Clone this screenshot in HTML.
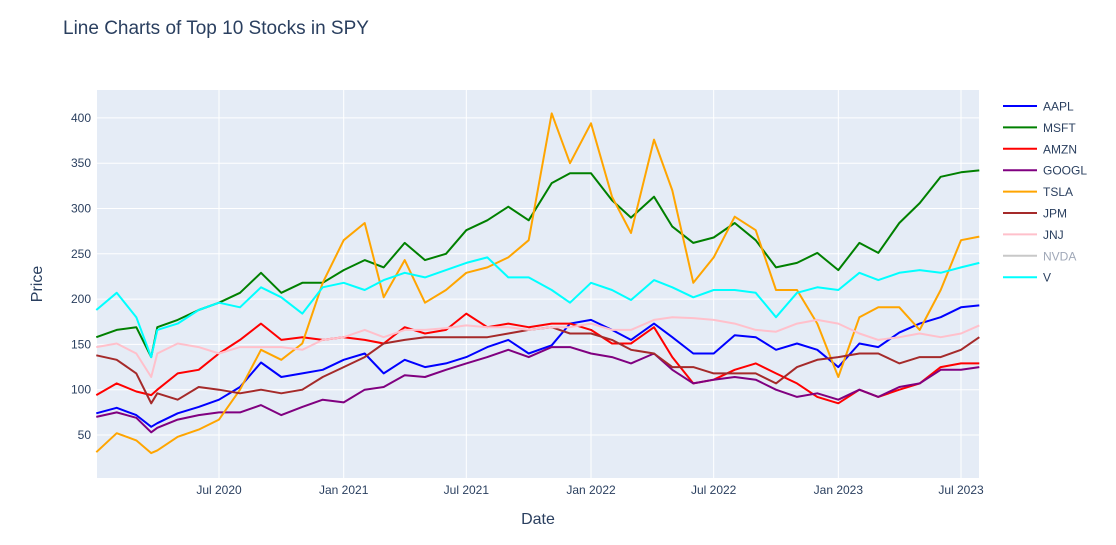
<!DOCTYPE html>
<html><head><meta charset="utf-8"><style>
body{margin:0;background:#fff;width:1116px;height:540px;overflow:hidden}
svg{font-family:"Liberation Sans",Arial,sans-serif}
</style></head><body>
<svg id="chart" width="1116" height="540" xmlns="http://www.w3.org/2000/svg">
<text x="63" y="34" font-size="19" fill="#2a3f5f">Line Charts of Top 10 Stocks in SPY</text>
<rect x="97" y="90" width="882" height="388" fill="#E5ECF6"/>
<g id="grid"></g><g id="lines"></g><g id="ticks"></g>
<text x="538" y="524" font-size="16" fill="#2a3f5f" text-anchor="middle">Date</text>
<text x="0" y="0" font-size="16" fill="#2a3f5f" text-anchor="middle" transform="translate(42,284) rotate(-90)">Price</text>
<g id="legend"></g>
</svg>
<script>
const dates=["2020-01-02","2020-02-01","2020-03-01","2020-03-23","2020-04-01","2020-05-01","2020-06-01","2020-07-01","2020-08-01","2020-09-01","2020-10-01","2020-11-01","2020-12-01","2021-01-01","2021-02-01","2021-03-01","2021-04-01","2021-05-01","2021-06-01","2021-07-01","2021-08-01","2021-09-01","2021-10-01","2021-11-04","2021-12-01","2022-01-01","2022-02-01","2022-03-01","2022-04-04","2022-05-01","2022-06-01","2022-07-01","2022-08-01","2022-09-01","2022-10-01","2022-11-01","2022-12-01","2023-01-01","2023-02-01","2023-03-01","2023-04-01","2023-05-01","2023-06-01","2023-07-01","2023-07-28"];
const tickers=["AAPL","MSFT","AMZN","GOOGL","TSLA","JPM","JNJ","NVDA","V"];
const colors=["blue","green","red","purple","orange","brown","pink","#c8c8c8","cyan"];
const aapl=[74,80,72,59,63,74,81,89,103,130,114,118,122,133,140,118,133,125,129,136,147,155,140,149,173,177,166,155,173,158,140,140,160,158,144,151,144,125,151,147,163,173,180,191,193];
const msft=[158,166,169,136,169,177,188,196,207,229,207,218,218,232,243,235,262,243,250,276,287,302,287,328,339,339,309,290,313,280,262,268,284,265,235,240,251,232,262,251,284,306,335,340,342];
const amzn=[94,107,98,94,100,118,122,140,155,173,155,158,155,158,155,151,169,162,166,184,169,173,169,173,173,166,151,151,169,136,107,111,122,129,118,107,92,85,100,92,100,107,125,129,129];
const googl=[70,75,69,53,58,67,72,75,75,83,72,81,89,86,100,103,116,114,122,129,136,144,136,147,147,140,136,129,140,122,107,111,114,111,100,92,96,89,100,92,103,107,122,122,125];
const tsla=[31,52,44,30,33,48,56,67,100,144,133,151,218,265,284,202,243,196,210,229,235,246,265,405,350,394,313,273,376,320,218,246,291,276,210,210,173,114,180,191,191,166,210,265,269];
const jpm=[138,133,118,85,96,89,103,100,96,100,96,100,114,125,136,151,155,158,158,158,158,162,166,169,162,162,155,144,140,125,125,118,118,118,107,125,133,136,140,140,129,136,136,144,158];
const jnj=[147,151,140,114,140,151,147,140,147,147,147,144,155,158,166,158,166,166,168,171,169,169,166,169,169,173,166,166,177,180,179,177,173,166,164,173,177,173,162,155,158,162,158,162,171];
const visa=[188,207,180,136,166,173,188,196,191,213,202,184,213,218,210,221,229,224,232,240,246,224,224,210,196,218,210,199,221,213,202,210,210,207,180,207,213,210,229,221,229,232,229,235,240];
const yTicks=[50,100,150,200,250,300,350,400];
const xTickDates=["2020-07-01","2021-01-01","2021-07-01","2022-01-01","2022-07-01","2023-01-01","2023-07-01"];
const xTickLabels=["Jul 2020","Jan 2021","Jul 2021","Jan 2022","Jul 2022","Jan 2023","Jul 2023"];

const NS="http://www.w3.org/2000/svg";
const t0=Date.parse("2020-07-01"),t1=Date.parse("2023-07-01");
function xs(d){return 219+(Date.parse(d)-t0)/(t1-t0)*742;}
function ys(v){return 435-(v-50)*0.906;}
function mk(tag,attrs,parent){const e=document.createElementNS(NS,tag);for(const k in attrs)e.setAttribute(k,attrs[k]);parent.appendChild(e);return e;}
const grid=document.getElementById('grid'),ticks=document.getElementById('ticks'),lines=document.getElementById('lines'),legend=document.getElementById('legend');
yTicks.forEach(v=>{
 const l=mk('line',{x1:97,x2:979,y1:ys(v),y2:ys(v),stroke:'#fff','stroke-width':1},grid);
 
 
 const t=mk('text',{x:91,y:ys(v)+4,'font-size':12,fill:'#2a3f5f','text-anchor':'end'},ticks);
 t.textContent=v;
 
 
});
xTickDates.forEach((d,i)=>{
 const l=mk('line',{x1:xs(d),x2:xs(d),y1:90,y2:478,stroke:'#fff','stroke-width':1},grid);
 
 
 const t=mk('text',{x:xs(d),y:494,'font-size':12,fill:'#2a3f5f','text-anchor':'middle'},ticks);
 t.textContent=xTickLabels[i];
 
 
});
const series=[aapl,msft,amzn,googl,tsla,jpm,jnj,null,visa];
series.forEach((s,i)=>{
 if(!s)return;
 const p=mk('polyline',{points:s.map((v,j)=>xs(dates[j]).toFixed(1)+','+ys(v).toFixed(1)).join(' '),fill:'none',stroke:colors[i],'stroke-width':2,'stroke-linejoin':'round'},lines);
 
 
});
tickers.forEach((tk,i)=>{
 const y=106+i*21.4;
 const g=mk('g',{},legend);
 
 
 mk('line',{x1:1003,x2:1037,y1:y,y2:y,stroke:colors[i],'stroke-width':2},g);
 const t=mk('text',{x:1043,y:y+4.5,'font-size':12,fill:tk==='NVDA'?'#a0a8b8':'#2a3f5f'},g);
 t.textContent=tk;
});
</script>
</body></html>
